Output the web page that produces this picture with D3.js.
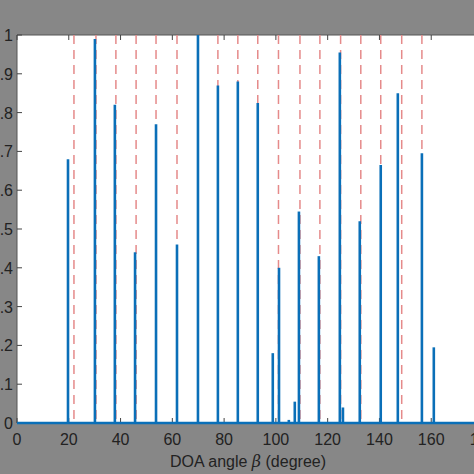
<!DOCTYPE html><html><head><meta charset="utf-8"><script src="https://d3js.org/d3.v7.min.js"></script>
<style>body{margin:0;background:#878787}svg{display:block}</style></head><body>
<script>
const stemAngles=[19.7,30.1,37.8,45.6,53.7,61.8,69.9,77.6,85.3,93,98.8,101.2,105,107.3,108.9,116.6,124.7,125.9,132.4,140.5,147.1,156.4,161];
const stemValues=[0.68,0.99,0.82,0.44,0.77,0.46,1.0,0.87,0.88,0.825,0.18,0.40,0.008,0.055,0.545,0.43,0.955,0.04,0.52,0.665,0.85,0.695,0.195];
const trueAngles=[22,30.5,38.2,46,53.7,61.8,69.9,77.6,85.3,93,101,109.3,117,125,132.8,140.5,148.6,156.4];
const xTicks=[0,20,40,60,80,100,120,140,160,180];
const yTicks=[0,0.1,0.2,0.3,0.4,0.5,0.6,0.7,0.8,0.9,1];
const W=474,H=474;
const svg=d3.select("body").append("svg").attr("width",W).attr("height",H);
svg.append("rect").attr("width",W).attr("height",H).attr("fill","#878787");
const x=d3.scaleLinear().domain([0,180]).range([17,483]);
const y=d3.scaleLinear().domain([0,1]).range([423,35]);
svg.append("rect").attr("x",17).attr("y",35).attr("width",470).attr("height",388).attr("fill","#fff");
svg.append("line").attr("x1",17).attr("x2",483).attr("y1",35).attr("y2",35).attr("stroke","#555").attr("stroke-width",1);
svg.append("line").attr("x1",17).attr("x2",17).attr("y1",35).attr("y2",423).attr("stroke","#555");
xTicks.forEach(t=>{svg.append("line").attr("x1",x(t)).attr("x2",x(t)).attr("y1",35).attr("y2",40).attr("stroke","#444");
 svg.append("line").attr("x1",x(t)).attr("x2",x(t)).attr("y1",423).attr("y2",418).attr("stroke","#444");});
yTicks.forEach(t=>{svg.append("line").attr("x1",17).attr("x2",22).attr("y1",y(t)).attr("y2",y(t)).attr("stroke","#444");});
svg.selectAll(".tr").data(trueAngles).enter().append("line").attr("x1",d=>x(d)).attr("x2",d=>x(d))
 .attr("y1",35).attr("y2",423).attr("stroke","#e58a8a").attr("stroke-width",1.5).attr("stroke-dasharray","9,6");
svg.selectAll(".st").data(stemAngles).enter().append("line").attr("x1",d=>x(d)).attr("x2",d=>x(d))
 .attr("y1",y(0)).attr("y2",(d,i)=>y(stemValues[i])).attr("stroke","#0a6fb8").attr("stroke-width",2.6);
svg.append("line").attr("x1",17).attr("x2",483).attr("y1",y(0)).attr("y2",y(0)).attr("stroke","#0a6fb8").attr("stroke-width",2.6);
const f="Liberation Sans, Arial, sans-serif";
xTicks.forEach(t=>svg.append("text").attr("x",x(t)).attr("y",445).attr("text-anchor","middle").attr("font-family",f).attr("font-size",16).attr("fill","#222").text(t));
yTicks.forEach(t=>svg.append("text").attr("x",13).attr("y",y(t)+6).attr("text-anchor","end").attr("font-family",f).attr("font-size",16).attr("fill","#222").text(t===0?"0":t===1?"1":d3.format(".1f")(t)));
const lab=svg.append("text").attr("x",248).attr("y",467).attr("text-anchor","middle").attr("font-family",f).attr("font-size",16).attr("fill","#222");
lab.append("tspan").text("DOA angle ");
lab.append("tspan").attr("font-style","italic").attr("font-family","DejaVu Serif, serif").text("β");
lab.append("tspan").text(" (degree)");
</script></body></html>
